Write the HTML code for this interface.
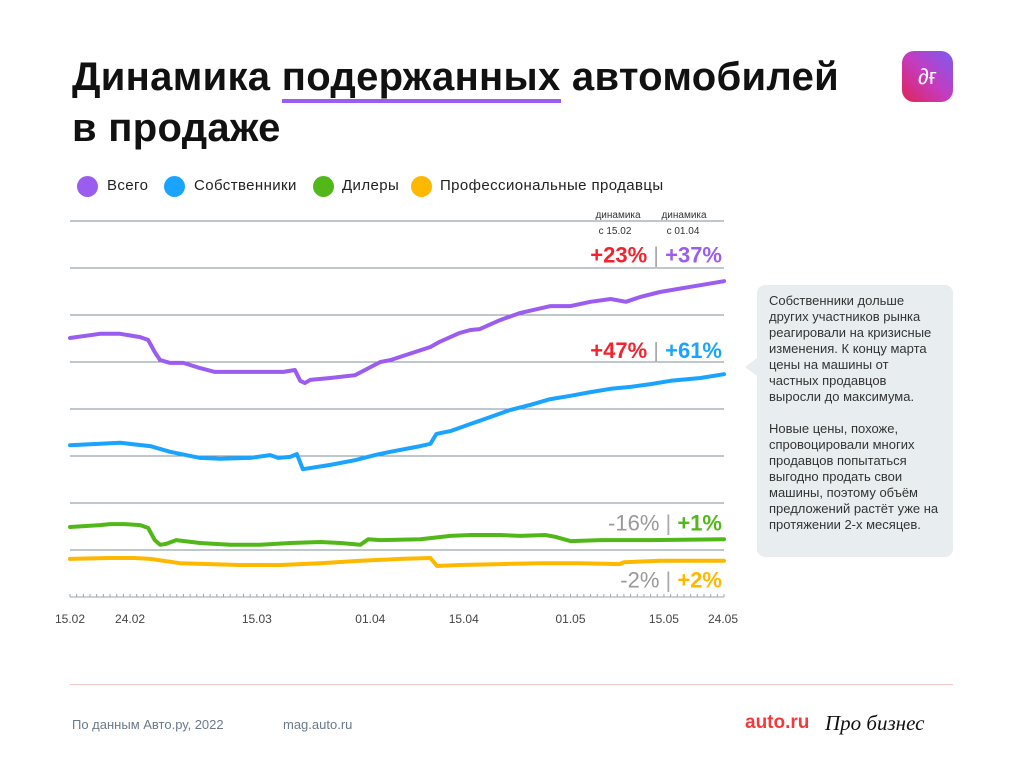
<!DOCTYPE html>
<html><head><meta charset="utf-8">
<style>
body{margin:0;width:1024px;height:768px;background:#fff;font-family:"Liberation Sans","DejaVu Sans",sans-serif;overflow:hidden;position:relative}
.t{position:absolute;white-space:nowrap}
.lg{position:absolute;top:176px;font-size:15px;color:#222;letter-spacing:0.4px;line-height:20px}
.dot{position:absolute;top:176px;width:21px;height:21px;border-radius:50%}
</style></head><body>
<div class="t" style="left:72px;top:52px;font-size:40px;letter-spacing:0.3px;font-weight:bold;line-height:51px;color:#111">Динамика <span style="border-bottom:4px solid #9b5cf0">подержанных</span> автомобилей<br>в продаже</div>
<div style="position:absolute;left:902px;top:51px;width:51px;height:51px;border-radius:12px;background:linear-gradient(45deg,#e0245a,#c43cc0,#7c5cf0);color:#fff;font-size:22px;text-align:center;line-height:51px">∂ғ</div>
<div>
<div class="dot" style="left:77px;background:#9b5cf0"></div>
<div class="lg" style="left:107px">Всего</div>
<div class="dot" style="left:164px;background:#1aa3ff"></div>
<div class="lg" style="left:194px">Собственники</div>
<div class="dot" style="left:313px;background:#52b81a"></div>
<div class="lg" style="left:342px">Дилеры</div>
<div class="dot" style="left:411px;background:#ffb800"></div>
<div class="lg" style="left:440px">Профессиональные продавцы</div>
</div>
<svg id="chart" width="1024" height="768" style="position:absolute;left:0;top:0"></svg>
<div style="position:absolute;left:757px;top:285px;width:196px;height:272px;background:#e8eef0;border-radius:8px;box-sizing:border-box;padding:8px 12px 8px 12px;font-size:13px;line-height:16px;color:#333">Собственники дольше других участников рынка реагировали на кризисные изменения. К концу марта цены на машины от частных продавцов выросли до максимума.<br><br>Новые цены, похоже, спровоцировали многих продавцов попытаться выгодно продать свои машины, поэтому объём предложений растёт уже на протяжении 2-х месяцев.</div>
<div style="position:absolute;left:745px;top:358px;width:0;height:0;border-top:9px solid transparent;border-bottom:9px solid transparent;border-right:12px solid #e8eef0"></div>
<div style="position:absolute;left:70px;top:684px;width:883px;height:1px;background:#f6c9c9"></div>
<div class="t" style="left:72px;top:717px;font-size:13px;color:#6a7a8a">По данным Авто.ру, 2022</div>
<div class="t" style="left:283px;top:717px;font-size:13px;color:#6a7a8a">mag.auto.ru</div>
<div class="t" style="left:745px;top:712px;font-size:19px;font-weight:bold;color:#f23a3a">auto.ru</div>
<div class="t" style="left:825px;top:711px;font-size:21px;font-style:italic;font-family:'Liberation Serif',serif;color:#111">Про бизнес</div>
<script>
const days=[0,4.5,7.5,10.5,11.7,12.7,13.5,15,17,19.5,21.7,27,32,33.7,34.5,35.2,36,39,42.7,44.2,46.5,48,54,55.4,58.4,60,61.4,64.4,67.4,72,75,78,81,83.3,85.4,88.4,93,98];
const totalVals=[5.51,5.60,5.60,5.53,5.47,5.21,5.04,4.98,4.98,4.87,4.79,4.79,4.79,4.83,4.60,4.55,4.62,4.66,4.72,4.83,5.00,5.04,5.32,5.43,5.62,5.68,5.70,5.89,6.04,6.19,6.19,6.28,6.34,6.28,6.38,6.49,6.60,6.72];
const ownerDays=[0,4.5,7.5,12,15,19.5,22.5,27,30,31.2,33,34,34.9,39,42.7,45.7,48,52.5,54,54.9,57,60,63,66,69,72,75,78,81,84,87,90,94.5,98];
const ownerVals=[3.23,3.26,3.28,3.21,3.09,2.96,2.94,2.96,3.02,2.96,2.98,3.04,2.72,2.81,2.91,3.02,3.09,3.21,3.26,3.47,3.53,3.68,3.83,3.98,4.09,4.21,4.28,4.36,4.43,4.47,4.53,4.60,4.66,4.74];
const dealerDays=[0,4.5,6,8.2,10.5,11.7,12.7,13.5,14.4,15.9,19.5,24,28.5,33,37.5,40.5,43.5,44.7,46.5,52.5,57,60,64.5,67.5,71.2,72.7,75,79.5,87,98];
const dealerVals=[1.49,1.53,1.55,1.55,1.53,1.47,1.21,1.11,1.13,1.21,1.15,1.11,1.11,1.15,1.17,1.15,1.11,1.23,1.21,1.23,1.30,1.32,1.32,1.30,1.32,1.28,1.19,1.21,1.21,1.23];
const proDays=[0,6,9.7,12,16.5,21,25.5,31.5,37.5,43.5,49.5,54,55,58.4,64.4,70.4,76.4,82.4,83,88.4,98];
const proVals=[0.81,0.83,0.83,0.81,0.72,0.70,0.68,0.68,0.72,0.77,0.81,0.83,0.66,0.68,0.70,0.72,0.72,0.70,0.74,0.77,0.77];
const tickLabels=["15.02","24.02","15.03","01.04","15.04","01.05","15.05","24.05"];
const tickDays=[0,9,28,45,59,75,89,98];
const gridVals=[1,2,3,4,5,6,7,8];
const labels=[
 {v:7.12,a:"+23%",ac:"#f5222d",b:"+37%",bc:"#9b5cf0",boldA:true},
 {v:5.08,a:"+47%",ac:"#f5222d",b:"+61%",bc:"#1aa3ff",boldA:true},
 {v:1.42,a:"-16%",ac:"#999",b:"+1%",bc:"#52b81a",boldA:false},
 {v:0.2,a:"-2%",ac:"#999",b:"+2%",bc:"#ffb800",boldA:false}];
const X0=70,X1=724,Y0=597,Y1=221;
const xs=d=>X0+d/98*(X1-X0);
const ys=v=>Y0-v/8*(Y0-Y1);
const svg=document.getElementById('chart');const NS='http://www.w3.org/2000/svg';
function mk(t,a){const e=document.createElementNS(NS,t);for(const k in a)e.setAttribute(k,a[k]);svg.appendChild(e);return e;}
gridVals.forEach(v=>{const l=mk('line',{x1:X0,x2:X1,y1:ys(v),y2:ys(v),stroke:'#7d8f99','stroke-width':1});

});
const ax=mk('line',{x1:X0,x2:X1,y1:Y0,y2:Y0,stroke:'#9aa6ad','stroke-width':1});


for(let d=0;d<=98;d++){const t=mk('line',{x1:xs(d),x2:xs(d),y1:Y0,y2:Y0-3,stroke:'#9aa6ad','stroke-width':1});

}
tickLabels.forEach((s,i)=>{const t=mk('text',{x:xs(tickDays[i]),y:623,'font-size':12,fill:'#444','text-anchor':'middle'});t.textContent=s;
if(i==tickLabels.length-1)t.setAttribute('x',X1-1);

});
function series(dd,vv,c,name){const p=mk('path',{d:dd.map((d,i)=>(i?'L':'M')+xs(d).toFixed(1)+' '+ys(vv[i]).toFixed(1)).join(' '),fill:'none',stroke:c,'stroke-width':4,'stroke-linejoin':'round','stroke-linecap':'round'});

}
series(proDays,proVals,'#ffb800','line-pro-sellers');
series(dealerDays,dealerVals,'#52b81a','line-dealers');
series(ownerDays,ownerVals,'#1aa3ff','line-owners');
series(days,totalVals,'#9b5cf0','line-total');
[["динамика",618,218],["с 15.02",615,234],["динамика",684,218],["с 01.04",683,234]].forEach(a=>{const t=mk('text',{x:a[1],y:a[2],'font-size':10,fill:'#333','text-anchor':'middle'});t.textContent=a[0];

});
labels.forEach(L=>{const y=ys(L.v);const t=mk('text',{x:X1-2,y:y,'font-size':22,'text-anchor':'end'});
t.innerHTML='<tspan fill="'+L.ac+'" font-weight="'+(L.boldA?'bold':'normal')+'">'+L.a+'</tspan><tspan fill="#aaa" font-weight="normal"> | </tspan><tspan fill="'+L.bc+'" font-weight="bold">'+L.b+'</tspan>';

});
</script>
</body></html>
